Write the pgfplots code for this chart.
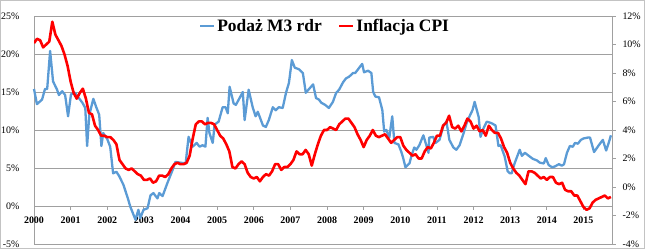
\documentclass[border=0pt]{standalone}
\usepackage{pgfplots}
\pgfplotsset{compat=1.18}
\usepackage{pgfplotstable}
\usepackage{fontspec}
\setmainfont{Liberation Serif}
\definecolor{m3blue}{RGB}{91,155,213}
\definecolor{gridgray}{RGB}{160,160,160}
\definecolor{framegray}{RGB}{195,195,195}

\pgfplotstableread{
x y
2000.00 15.4
2000.08 13.4
2000.22 14.0
2000.30 15.4
2000.36 15.4
2000.44 20.4
2000.52 16.4
2000.63 15.3
2000.68 14.6
2000.77 15.1
2000.85 14.6
2000.93 11.8
2001.01 14.7
2001.12 14.9
2001.21 14.3
2001.32 13.6
2001.40 12.9
2001.45 7.9
2001.51 12.0
2001.62 14.1
2001.70 13.0
2001.78 12.0
2001.84 7.9
2001.89 9.6
2002.00 8.8
2002.08 7.8
2002.16 4.3
2002.25 4.5
2002.33 3.9
2002.44 2.8
2002.55 1.2
2002.63 -0.1
2002.77 -1.8
2002.85 -0.5
2002.90 -1.6
2002.99 -0.5
2003.10 -0.3
2003.18 1.4
2003.26 1.7
2003.37 1.0
2003.42 1.7
2003.51 1.3
2003.64 3.0
2003.78 4.7
2003.86 5.8
2004.00 5.7
2004.14 5.6
2004.22 9.1
2004.33 7.8
2004.44 8.3
2004.52 7.8
2004.60 8.0
2004.68 7.8
2004.74 11.6
2004.79 9.6
2004.88 8.3
2004.93 10.7
2005.04 11.1
2005.15 13.0
2005.23 13.0
2005.29 12.2
2005.34 15.7
2005.45 13.5
2005.51 13.3
2005.59 14.0
2005.70 15.0
2005.75 11.3
2005.86 15.3
2005.97 13.0
2006.05 11.8
2006.11 12.4
2006.25 10.6
2006.33 10.4
2006.41 11.3
2006.52 13.0
2006.60 12.6
2006.68 13.0
2006.79 12.9
2006.88 14.9
2006.96 16.2
2007.04 19.2
2007.12 18.2
2007.23 18.0
2007.34 17.5
2007.42 14.9
2007.51 15.4
2007.62 16.0
2007.70 14.2
2007.78 14.0
2007.84 13.6
2007.95 13.3
2008.05 12.9
2008.16 13.7
2008.25 14.9
2008.33 15.3
2008.44 16.3
2008.52 16.8
2008.60 17.0
2008.71 17.5
2008.77 17.5
2008.88 18.2
2008.96 18.7
2009.01 17.6
2009.12 17.8
2009.21 17.5
2009.26 15.0
2009.32 14.4
2009.42 14.3
2009.51 12.6
2009.56 9.8
2009.62 10.0
2009.70 9.0
2009.78 11.8
2009.84 8.3
2009.95 8.1
2010.03 7.1
2010.08 6.3
2010.14 5.1
2010.25 5.6
2010.30 6.5
2010.38 7.7
2010.44 7.4
2010.52 8.0
2010.63 9.3
2010.68 8.5
2010.77 7.0
2010.79 9.0
2010.90 9.1
2010.96 8.3
2011.07 8.7
2011.18 10.6
2011.26 11.1
2011.34 8.7
2011.45 7.7
2011.53 7.4
2011.62 8.0
2011.73 9.6
2011.81 10.9
2011.89 11.8
2011.97 12.6
2012.03 13.7
2012.14 11.7
2012.19 9.1
2012.27 10.2
2012.36 11.1
2012.49 10.9
2012.60 10.6
2012.68 7.9
2012.74 8.0
2012.85 6.5
2012.93 4.6
2012.99 4.3
2013.04 4.3
2013.12 5.6
2013.26 7.4
2013.32 6.6
2013.40 7.0
2013.51 6.6
2013.62 6.2
2013.73 6.0
2013.81 5.7
2013.92 5.6
2013.97 6.3
2014.05 5.4
2014.14 5.1
2014.22 5.2
2014.33 5.5
2014.41 5.3
2014.47 5.5
2014.55 7.0
2014.63 7.9
2014.71 7.8
2014.77 8.3
2014.85 8.2
2014.93 8.7
2015.01 8.9
2015.12 9.0
2015.18 9.0
2015.29 7.1
2015.42 8.0
2015.53 8.7
2015.62 7.3
2015.69 8.3
2015.75 9.3
}\mthree

\pgfplotstableread{
x y
2000.000 10.1
2000.083 10.4
2000.167 10.3
2000.250 9.8
2000.333 10.0
2000.417 10.2
2000.500 11.6
2000.583 10.7
2000.667 10.3
2000.750 9.9
2000.833 9.3
2000.917 8.5
2001.000 7.4
2001.083 6.6
2001.167 6.2
2001.250 6.6
2001.333 6.9
2001.417 6.2
2001.500 5.2
2001.583 5.1
2001.667 4.3
2001.750 4.0
2001.833 3.6
2001.917 3.6
2002.000 3.5
2002.083 3.5
2002.167 3.3
2002.250 3.0
2002.333 1.9
2002.417 1.6
2002.500 1.3
2002.583 1.2
2002.667 1.3
2002.750 1.1
2002.833 0.9
2002.917 0.8
2003.000 0.5
2003.083 0.5
2003.167 0.6
2003.250 0.3
2003.333 0.4
2003.417 0.8
2003.500 0.8
2003.583 0.7
2003.667 0.9
2003.750 1.3
2003.833 1.6
2003.917 1.7
2004.000 1.6
2004.083 1.6
2004.167 1.7
2004.250 2.2
2004.333 3.4
2004.417 4.4
2004.500 4.6
2004.583 4.6
2004.667 4.4
2004.750 4.5
2004.833 4.5
2004.917 4.4
2005.000 4.0
2005.083 3.6
2005.167 3.4
2005.250 3.0
2005.333 2.5
2005.417 1.4
2005.500 1.3
2005.583 1.6
2005.667 1.8
2005.750 1.6
2005.833 1.0
2005.917 0.7
2006.000 0.6
2006.083 0.7
2006.167 0.4
2006.250 0.7
2006.333 0.9
2006.417 0.8
2006.500 1.1
2006.583 1.6
2006.667 1.6
2006.750 1.2
2006.833 1.4
2006.917 1.4
2007.000 1.6
2007.083 1.9
2007.167 2.5
2007.250 2.3
2007.333 2.3
2007.417 2.6
2007.500 2.3
2007.583 1.5
2007.667 2.3
2007.750 3.0
2007.833 3.6
2007.917 4.0
2008.000 4.0
2008.083 4.2
2008.167 4.1
2008.250 4.0
2008.333 4.4
2008.417 4.6
2008.500 4.8
2008.583 4.8
2008.667 4.5
2008.750 4.2
2008.833 3.7
2008.917 3.3
2009.000 2.8
2009.083 3.3
2009.167 3.6
2009.250 4.0
2009.333 3.6
2009.417 3.5
2009.500 3.6
2009.583 3.7
2009.667 3.4
2009.750 3.1
2009.833 3.3
2009.917 3.5
2010.000 3.5
2010.083 2.9
2010.167 2.6
2010.250 2.4
2010.333 2.2
2010.417 2.3
2010.500 2.0
2010.583 2.0
2010.667 2.5
2010.750 2.8
2010.833 2.7
2010.917 3.1
2011.000 3.6
2011.083 3.6
2011.167 4.3
2011.250 4.5
2011.333 5.0
2011.417 4.2
2011.500 4.1
2011.583 4.3
2011.667 3.9
2011.750 4.3
2011.833 4.8
2011.917 4.6
2012.000 4.1
2012.083 4.3
2012.167 3.9
2012.250 4.0
2012.333 3.6
2012.417 4.3
2012.500 4.0
2012.583 3.8
2012.667 3.8
2012.750 3.4
2012.833 2.8
2012.917 2.4
2013.000 1.7
2013.083 1.3
2013.167 1.0
2013.250 0.8
2013.333 0.5
2013.417 0.2
2013.500 1.1
2013.583 1.1
2013.667 1.0
2013.750 0.8
2013.833 0.6
2013.917 0.7
2014.000 0.5
2014.083 0.7
2014.167 0.7
2014.250 0.3
2014.333 0.2
2014.417 0.3
2014.500 -0.2
2014.583 -0.3
2014.667 -0.3
2014.750 -0.6
2014.833 -0.6
2014.917 -1.0
2015.000 -1.4
2015.083 -1.6
2015.167 -1.5
2015.250 -1.1
2015.333 -0.9
2015.417 -0.8
2015.500 -0.7
2015.583 -0.6
2015.667 -0.8
2015.750 -0.7
}\cpi

\begin{document}
\begin{tikzpicture}
\useasboundingbox (0bp,0bp) rectangle (645bp,252bp);
\draw[framegray, line width=0.8bp] (0.5bp,4bp) rectangle (644.5bp,251.5bp);
\begin{axis}[
  at={(34bp,8bp)}, anchor=south west,
  scale only axis, width=578bp, height=228bp,
  xmin=2000, xmax=2015.78, ymin=-5, ymax=25,
  axis x line*=middle, axis y line*=left,
  hide obscured x ticks=false,
  axis line style={gridgray, line width=0.8bp, -},
  ytick={-5,0,5,10,15,20,25},
  yticklabels={-5\%,0\%,5\%,10\%,15\%,20\%,25\%},
  ytick style={draw=none},
  ymajorgrids, grid style={gridgray, line width=0.8bp},
  yticklabel style={font=\fontsize{10}{12}\selectfont, xshift=-7bp},
  xtick={2000,2001,2002,2003,2004,2005,2006,2007,2008,2009,2010,2011,2012,2013,2014,2015},
  xticklabels={2000,2001,2002,2003,2004,2005,2006,2007,2008,2009,2010,2011,2012,2013,2014,2015},
  xticklabel style={font=\bfseries\fontsize{10}{12}\selectfont, yshift=-3bp},
  xtick style={gridgray, line width=0.8bp},
  tick align=outside, major tick length=4bp,
  clip=false,
]
\draw[gridgray, line width=0.8bp] (rel axis cs:0,0) -- (rel axis cs:1,0);
\addplot[m3blue, line width=2.3bp, line join=round, no marks] table[x=x,y=y] {\mthree};
\end{axis}
\begin{axis}[
  at={(34bp,8bp)}, anchor=south west,
  scale only axis, width=578bp, height=228bp,
  xmin=2000, xmax=2015.78, ymin=-4, ymax=12,
  axis x line=none, axis y line*=right,
  axis line style={gridgray, line width=0.8bp, -},
  ytick={-4,-2,0,2,4,6,8,10,12},
  yticklabels={-4\%,-2\%,0\%,2\%,4\%,6\%,8\%,10\%,12\%},
  ytick style={gridgray, line width=0.8bp},
  tick align=outside, major tick length=4bp,
  yticklabel style={font=\fontsize{10}{12}\selectfont, xshift=3bp},
  legend style={at={(0.5,1)}, anchor=north, yshift=-1bp, xshift=2bp, draw=none, fill=none,
    font=\bfseries\fontsize{17.5}{20}\selectfont, inner sep=0pt,
    /tikz/every even column/.append style={column sep=14bp}},
  legend columns=2,
  legend image code/.code={\draw[#1] (0bp,0bp) -- (14bp,0bp);},
]
\addlegendimage{m3blue, line width=2.3bp}
\addlegendentry{Podaż M3 rdr}
\addplot[red, line width=2.6bp, line join=round, no marks] table[x=x,y=y] {\cpi};
\addlegendentry{Inflacja CPI}
\end{axis}
\end{tikzpicture}
\end{document}
